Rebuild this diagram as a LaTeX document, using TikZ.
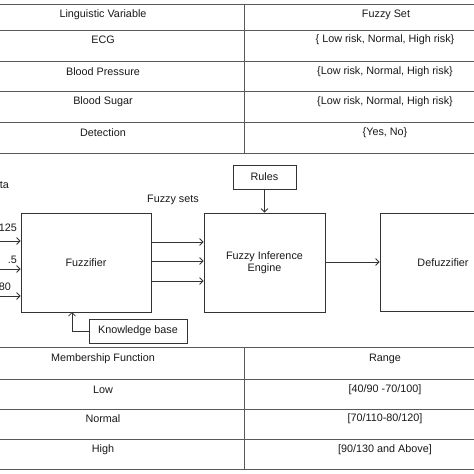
\documentclass[tikz,border=0pt]{standalone}
\usepackage{fontspec}
\setmainfont{Liberation Sans}
\usetikzlibrary{arrows.meta}
\begin{document}
\begin{tikzpicture}[x=1pt,y=-1pt,
  txt/.style={inner sep=0pt,font=\fontsize{10.8}{12.5}\selectfont,text=black!90},
  rule/.style={draw=black!65,line width=0.9pt},
  blk/.style={draw=black!80,line width=0.8pt,inner sep=0pt,font=\fontsize{10.8}{12.5}\selectfont,text=black!90,align=center},
  arr/.style={draw=black!80,line width=0.8pt,-{Straight Barb[length=3.5pt,width=7pt]}}]
\clip (0,0) rectangle (474,474);
\fill[white] (0,0) rectangle (474,474);
% top table
\foreach \y in {4,30,61,91,122,153} \draw[rule] (0,\y) -- (474,\y);
\draw[rule] (244,4) -- (244,154);
\node[txt] (h1) at (103,15) {Linguistic Variable};
\node[txt] (h2) at (386,15) {Fuzzy Set};
\node[txt] (r1a) at (103,40) {ECG};
\node[txt] (r1b) at (385,40) {\{ Low risk, Normal, High risk\}};
\node[txt] (r2a) at (103,72) {Blood Pressure};
\node[txt] (r2b) at (385,72) {\{Low risk, Normal, High risk\}};
\node[txt] (r3a) at (103,102) {Blood Sugar};
\node[txt] (r3b) at (385,102) {\{Low risk, Normal, High risk\}};
\node[txt] (r4a) at (103,133) {Detection};
\node[txt] (r4b) at (385,133) {\{Yes, No\}};
% bottom table
\foreach \y in {347,379,409,439,469} \draw[rule] (0,\y) -- (474,\y);
\draw[rule] (244,347) -- (244,469);
\node[txt] (b0a) at (103,359) {Membership Function};
\node[txt] (b0b) at (385,359) {Range};
\node[txt] (b1a) at (103,390) {Low};
\node[txt] (b1b) at (385,390) {[40/90 -70/100]};
\node[txt] (b2a) at (103,419) {Normal};
\node[txt] (b2b) at (385,419) {[70/110-80/120]};
\node[txt] (b3a) at (103,450) {High};
\node[txt] (b3b) at (385,450) {[90/130 and Above]};
% diagram
\node[blk,minimum width=130pt,minimum height=99pt] (fz) at (86,262.5) {Fuzzifier};
\node[blk,minimum width=121pt,minimum height=99pt] (fie) at (264.5,262.5) {Fuzzy Inference\\[-1pt]Engine};
\node[blk,minimum width=126pt,minimum height=98pt] (df) at (443,262.5) {Defuzzifier};
\node[blk,minimum width=63pt,minimum height=24pt] (rules) at (264.5,177) {Rules};
\node[blk,minimum width=98pt,minimum height=24pt] (kb) at (138,331) {Knowledge base};
\node[txt] (fs) at (173,200) {Fuzzy sets};
\node[txt,anchor=east] (lab0) at (9,185) {ta};
\node[txt,anchor=east] (lab1) at (17,228) {125};
\node[txt,anchor=east] (lab2) at (17,260) {.5};
\node[txt,anchor=east] (lab3) at (11,287) {80};
% connectors
\coordinate (in1) at (-5,241);
\coordinate (in2) at (-5,269);
\coordinate (in3) at (-5,296);
\draw[arr] (in1) -- (in1 -| fz.west);
\draw[arr] (in2) -- (in2 -| fz.west);
\draw[arr] (in3) -- (in3 -| fz.west);
\coordinate (o1) at (0,242);
\coordinate (o2) at (0,261);
\coordinate (o3) at (0,281);
\draw[arr] (o1 -| fz.east) -- (o1 -| fie.west);
\draw[arr] (o2 -| fz.east) -- (o2 -| fie.west);
\draw[arr] (o3 -| fz.east) -- (o3 -| fie.west);
\draw[arr] (fie.east |- 0,262) -- (df.west |- 0,262);
\draw[arr] (rules) -- (fie);
\coordinate (kbin) at (72,312);
\draw[arr] (kb.west) -| (kbin);
\end{tikzpicture}
\end{document}
